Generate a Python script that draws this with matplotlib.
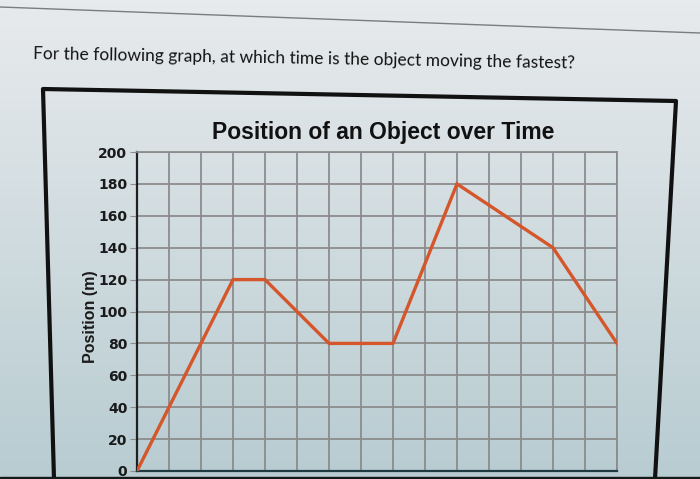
"""Position of an object over time (photo of a worksheet)."""

import matplotlib

matplotlib.use("Agg")
import matplotlib.pyplot as plt
import numpy as np

# data
time_s = [0, 3, 4, 6, 8, 10, 13, 15]
position_m = [0, 120, 120, 80, 80, 180, 140, 80]
y_ticks = list(range(0, 201, 20))
x_ticks = list(range(0, 16))

question = "For the following graph, at which time is the object moving the fastest?"
title = "Position of an Object over Time"
y_label = "Position (m)"

W, H = 700, 479


def fx(x):
    return x / W


def fy(y):
    # y in pixels from the top of the picture
    return 1 - y / H


fig = plt.figure(figsize=(7, 4.79), dpi=100)

# background: photo of a screen, light at the top, bluish lower down
bg = fig.add_axes([0, 0, 1, 1], zorder=-10)
grad = np.linspace(0, 1, 256).reshape(-1, 1)
top = np.array([0.91, 0.92, 0.93])
bot = np.array([0.72, 0.80, 0.82])
img = top[None, None, :] * (1 - grad[:, :, None]) + bot[None, None, :] * grad[:, :, None]
bg.imshow(img, aspect="auto", extent=[0, 1, 0, 1])
bg.set_xlim(0, 1)
bg.set_ylim(0, 1)
bg.axis("off")

# worksheet line and question
fig.add_artist(plt.Line2D([fx(0), fx(700)], [fy(7), fy(33)], color="#7a7d80", lw=1.0))
fig.text(fx(33), fy(54), question, fontsize=12.5, family=["Lato", "DejaVu Sans"],
         color="#141414", rotation=-1.0, va="center", ha="left", rotation_mode="anchor")

# black frame round the chart image
frame_x = [54, 43, 676, 655]
frame_y = [479, 89, 101, 479]
fig.add_artist(plt.Line2D([fx(v) for v in frame_x], [fy(v) for v in frame_y],
                          color="#111111", lw=3.0))
# bezel at the bottom edge
fig.add_artist(plt.Rectangle((0, 0), 1, fy(477), transform=fig.transFigure,
                             color="#15191b", zorder=5))

# chart
ax = fig.add_axes([fx(137), fy(471), fx(617) - fx(137), fy(152) - fy(471)])
ax.set_facecolor("none")
ax.plot(time_s, position_m, color="#d4562a", lw=2.4, solid_joinstyle="miter", zorder=3)
ax.set_xlim(0, 15)
ax.set_ylim(0, 200)
ax.set_xticks(x_ticks)
ax.set_yticks(y_ticks)
ax.set_yticklabels([str(v) for v in y_ticks], fontsize=10, fontweight="bold",
                   family="DejaVu Sans", color="#1a1a1a")
ax.tick_params(axis="x", length=0, labelbottom=False)
ax.tick_params(axis="y", length=5, color="#8c8c8c", pad=2)
ax.grid(True, color="#8c8c8c", lw=1.3)
ax.set_axisbelow(True)
for side in ("top", "right"):
    ax.spines[side].set_color("#8c8c8c")
    ax.spines[side].set_linewidth(1.3)
ax.spines["left"].set_color("#202020")
ax.spines["left"].set_linewidth(1.6)
ax.spines["bottom"].set_color("#1f3a40")
ax.spines["bottom"].set_linewidth(1.6)

fig.text(fx(383), fy(132), title, fontsize=16.5, fontweight="bold",
         family="Liberation Sans", color="#111111", ha="center", va="center")
fig.text(fx(91), fy(317), y_label, fontsize=11.5, fontweight="bold",
         family="Liberation Sans", color="#1a1a1a", rotation=90, ha="center", va="center")

fig.savefig("out.png", dpi=100)
plt.close(fig)
